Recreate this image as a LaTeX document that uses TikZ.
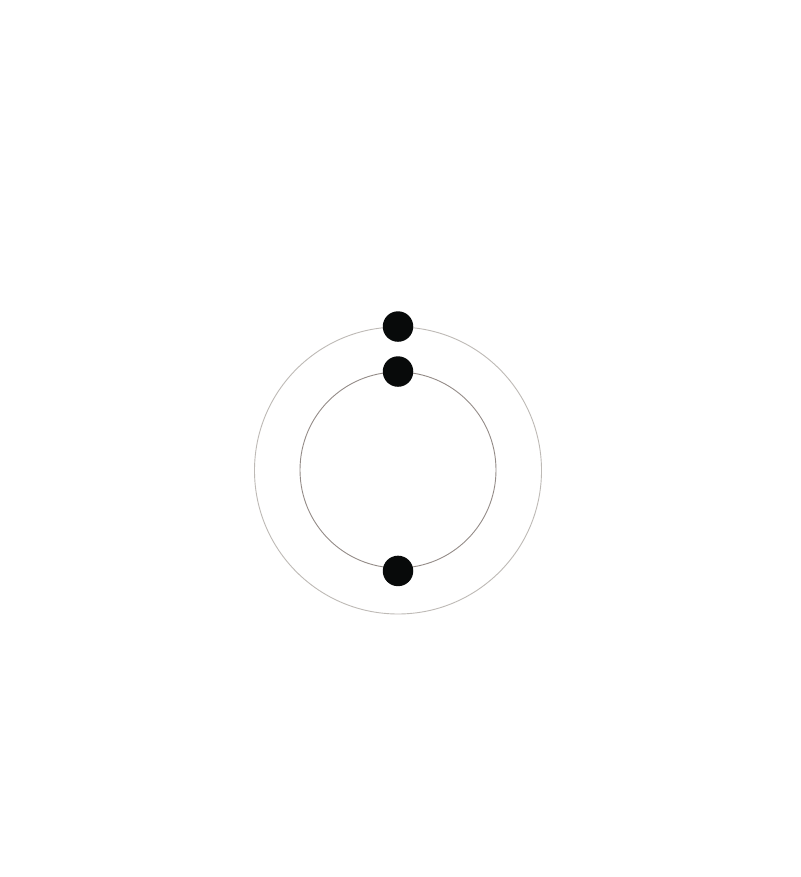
\documentclass[tikz,border=0pt]{standalone}
\usepackage{tikz}
\definecolor{outergray}{RGB}{190,186,182}
\definecolor{innergray}{RGB}{148,140,136}
\definecolor{dotblack}{RGB}{8,10,10}
\begin{document}
\begin{tikzpicture}[x=1pt, y=1pt]
    \useasboundingbox[fill=white] (0, 0) rectangle (800, 877);

    \node[circle, draw=outergray, line width=0.9pt, minimum size=287pt, inner sep=0pt] (outer) at (398, 406.5) {};
    \node[circle, draw=innergray, line width=0.9pt, minimum size=196pt, inner sep=0pt] (inner) at (398, 407) {};

    \node[circle, fill=dotblack, minimum size=30.5pt, inner sep=0pt] (top) at (outer.north) {};
    \node[circle, fill=dotblack, minimum size=30.5pt, inner sep=0pt] (mid) at (inner.north) {};
    \node[circle, fill=dotblack, minimum size=30.5pt, inner sep=0pt] (bot) at ([yshift=-2.5pt]inner.south) {};

\end{tikzpicture}
\end{document}
